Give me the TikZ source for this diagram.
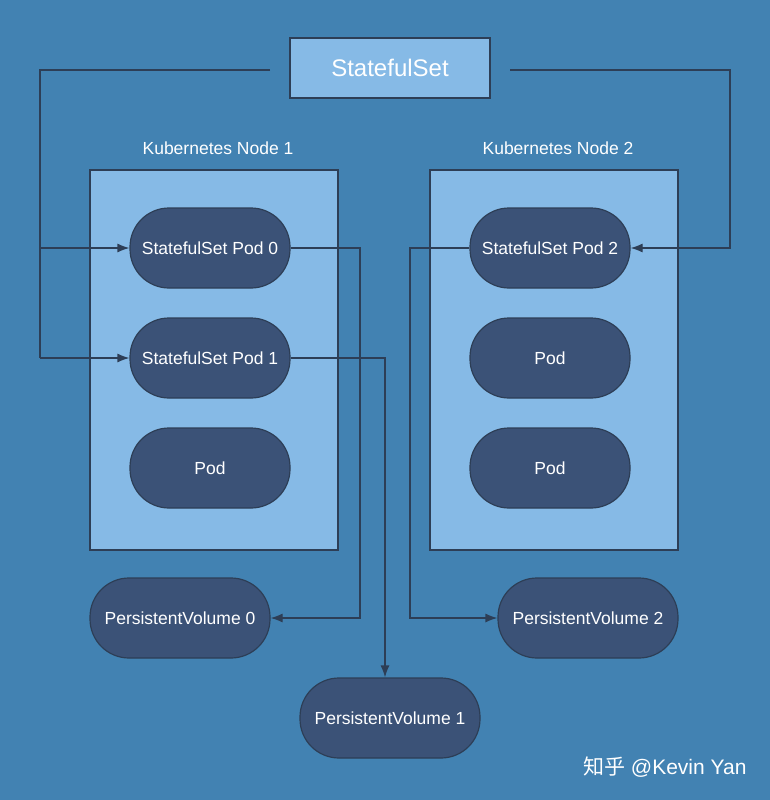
\documentclass[tikz,border=0pt]{standalone}
\usepackage{fontspec}
\setmainfont{Liberation Sans}
\newfontfamily\cjk{Noto Sans CJK SC}
\usetikzlibrary{arrows.meta}
\definecolor{bg}{HTML}{4282B2}
\definecolor{lightb}{HTML}{86BAE6}
\definecolor{podc}{HTML}{3B5277}
\definecolor{linec}{HTML}{2D3E56}
\tikzset{
 pod/.style={draw=linec,line width=1.2pt,fill=podc,rounded corners=39pt,minimum width=160pt,minimum height=80pt,text=white,font=\fontsize{17.5}{20}\selectfont,inner sep=0pt},
 pv/.style={pod,minimum width=180pt},
 knode/.style={draw=linec,line width=1.2pt,fill=lightb,minimum width=248pt,minimum height=380pt,inner sep=0pt},
 lbl/.style={text=white,font=\fontsize{17.5}{20}\selectfont},
 conn/.style={draw=linec,line width=1.2pt},
 arr/.style={conn,-{Latex[length=12pt,width=9pt]}}
}
\begin{document}
\begin{tikzpicture}[x=1pt,y=-1pt]
\fill[bg] (0,0) rectangle (770,800);
\useasboundingbox (0,0) rectangle (770,800);
\node[draw=linec,line width=1.2pt,fill=lightb,minimum width=200pt,minimum height=60pt,text=white,font=\fontsize{24}{28}\selectfont,inner sep=0pt] (ss) at (390,68) {StatefulSet};
\node[lbl] (l1) at (218,148) {Kubernetes Node 1};
\node[lbl] (l2) at (558,148) {Kubernetes Node 2};
\node[knode] (n1) at (214,360) {};
\node[knode] (n2) at (554,360) {};
\node[pod] (p0) at (210,248) {StatefulSet Pod 0};
\node[pod] (p1) at (210,358) {StatefulSet Pod 1};
\node[pod] (p3) at (210,468) {Pod};
\node[pod] (p2) at (550,248) {StatefulSet Pod 2};
\node[pod] (p4) at (550,358) {Pod};
\node[pod] (p5) at (550,468) {Pod};
\node[pv] (v0) at (180,618) {PersistentVolume 0};
\node[pv] (v2) at (588,618) {PersistentVolume 2};
\node[pv] (v1) at (390,718) {PersistentVolume 1};
\coordinate (sl) at (270,70);
\coordinate (sr) at (510,70);
\draw[conn] (sl) -- (40,70) -- (40,358);
\draw[arr] (40,248) -- (p0.west);
\draw[arr] (40,358) -- (p1.west);
\draw[arr] (sr) -- (730,70) -- (730,248) -- (p2.east);
\draw[arr] (p0.east) -- (360,248) -- (360,618) -- (v0.east);
\draw[arr] (p1.east) -- (385,358) -- (v1.north -| 385,0);
\draw[arr] (p2.west) -- (410,248) -- (410,618) -- (v2.west);
\node[text=white,font=\fontsize{21}{24}\selectfont,anchor=east] (wm) at (750,767) {{\cjk 知乎} @Kevin Yan};
\end{tikzpicture}
\end{document}
